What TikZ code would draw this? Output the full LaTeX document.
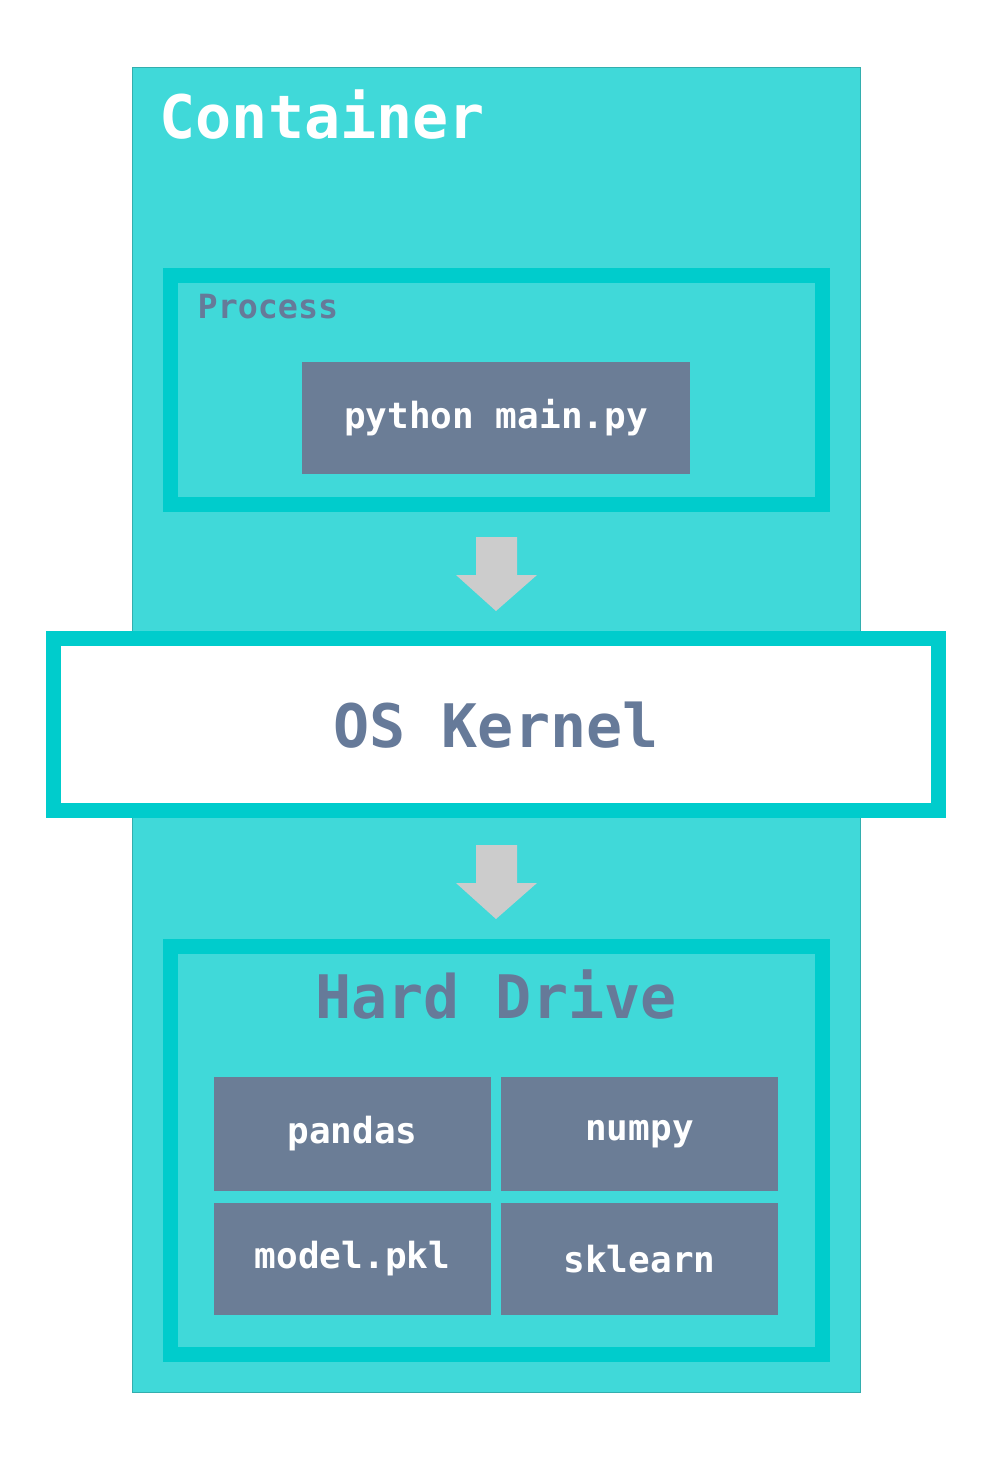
\documentclass[tikz,border=0pt]{standalone}
\usepackage{fontspec}
\setmainfont{DejaVu Sans Mono}
\definecolor{cont}{RGB}{64,217,217}
\definecolor{edge}{RGB}{0,204,204}
\definecolor{slate}{RGB}{107,125,150}
\definecolor{txt}{RGB}{102,122,153}
\definecolor{arr}{RGB}{204,204,204}
\begin{document}
\begin{tikzpicture}[x=0.75pt,y=-0.75pt,
  big/.style={font=\bfseries\fontsize{45}{54}\selectfont},
  mid/.style={font=\bfseries\fontsize{27}{32}\selectfont},
  frame/.style={draw=edge,line width=11.25pt},
  cell/.style={fill=slate,text=white,mid}]
\useasboundingbox (0,0) rectangle (1000,1465);
\fill[cont,draw=cont!80!black,line width=0.5pt] (132,67) rectangle (860,1392);
\node[big,text=white,anchor=west] (ct) at (155,115) {Container};
\draw[frame] (170.5,275.5) rectangle (822.5,504.5);
\node[font=\bfseries\fontsize{25}{30}\selectfont,text=txt,anchor=west] (pr) at (193,307) {Process};
\fill[slate] (302,362) rectangle (690,474);
\node[mid,text=white] (py) at (496,418) {python main.py};
\fill[arr] (476,537) -- (517,537) -- (517,575) -- (537,575) -- (496,611) -- (456,575) -- (476,575) -- cycle;
\draw[frame,fill=white] (53.5,638.5) rectangle (938.5,810.5);
\node[big,text=txt] (os) at (496,725) {OS Kernel};
\fill[arr] (476,845) -- (517,845) -- (517,883) -- (537,883) -- (496,919) -- (456,883) -- (476,883) -- cycle;
\draw[frame] (170.5,946.5) rectangle (822.5,1354.5);
\node[big,text=txt] (hd) at (496,995) {Hard Drive};
\fill[slate] (214,1077) rectangle (491,1191);
\fill[slate] (501,1077) rectangle (778,1191);
\fill[slate] (214,1203) rectangle (491,1315);
\fill[slate] (501,1203) rectangle (778,1315);
\node[mid,text=white] (pd) at (352.5,1134) {pandas};
\node[mid,text=white] (np) at (639.5,1134) {numpy};
\node[mid,text=white] (mp) at (352.5,1259) {model.pkl};
\node[mid,text=white] (sk) at (639.5,1259) {sklearn};
\end{tikzpicture}
\end{document}
